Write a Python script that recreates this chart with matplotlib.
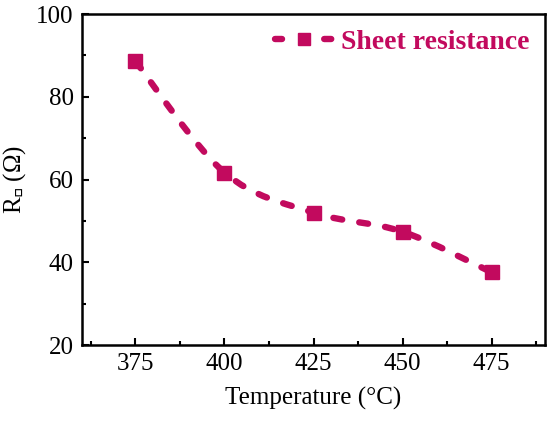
import numpy as np
import matplotlib
matplotlib.use("Agg")
import matplotlib.pyplot as plt
from matplotlib.path import Path
from matplotlib.patches import PathPatch
from matplotlib.lines import Line2D

# data
temperature = [375, 400, 425, 450, 475]
sheet_res = [88.6, 61.7, 52.0, 47.4, 37.6]

color = '#C20A5E'
plt.rcParams['font.family'] = ['Liberation Serif', 'DejaVu Serif']
plt.rcParams['mathtext.fontset'] = 'stix'

fig = plt.figure(figsize=(5.5, 4.25), dpi=100)
ax = fig.add_axes([0.149, 0.188, 0.842, 0.779])

# smooth dashed curve through the points (Catmull-Rom as bezier)
x = np.array(temperature, dtype=float)
y = np.array(sheet_res, dtype=float)
verts = [(x[0], y[0])]
codes = [Path.MOVETO]
for i in range(len(x) - 1):
    p0 = (x[i - 1], y[i - 1]) if i > 0 else (x[i], y[i])
    p3 = (x[i + 2], y[i + 2]) if i + 2 < len(x) else (x[i + 1], y[i + 1])
    c1 = (x[i] + (x[i + 1] - p0[0]) / 6, y[i] + (y[i + 1] - p0[1]) / 6)
    c2 = (x[i + 1] - (p3[0] - x[i]) / 6, y[i + 1] - (p3[1] - y[i]) / 6)
    verts += [c1, c2, (x[i + 1], y[i + 1])]
    codes += [Path.CURVE4] * 3
curve = PathPatch(Path(verts, codes), fill=False, edgecolor=color, lw=4.6,
                  linestyle=(0, (1.4, 2.7)), capstyle='round')
ax.add_patch(curve)
ax.plot(temperature, sheet_res, 's', color=color, ms=10, zorder=3)

ax.set_xlim(360, 490)
ax.set_ylim(20, 100)
ax.set_xticks([375, 400, 425, 450, 475])
ax.set_xticks([362.5, 387.5, 412.5, 437.5, 462.5, 487.5], minor=True)
ax.set_yticks([20, 40, 60, 80, 100])
ax.set_yticks([30, 50, 70, 90], minor=True)
ax.tick_params(which='both', direction='in', width=1.5, labelsize=18, pad=6)
ax.tick_params(which='major', length=5)
ax.tick_params(which='minor', length=3)
for s in ax.spines.values():
    s.set_linewidth(1.8)

ax.set_xlabel('Temperature (°C)', fontsize=18, labelpad=8)
ax.set_ylabel('R$_{\u25ab}$ (Ω)', fontsize=18, labelpad=6)

handle = Line2D([], [], color=color, lw=4.6, linestyle=(0, (1.1, 6.6)),
                marker='s', ms=8, dash_capstyle='round')
leg = ax.legend([handle], ['Sheet resistance'], loc='upper right', frameon=False,
                prop={'weight': 'bold', 'size': 20}, handlelength=2.15,
                handletextpad=0.25, borderaxespad=0.15)
for t in leg.get_texts():
    t.set_color(color)

fig.savefig('out.png', dpi=100)
